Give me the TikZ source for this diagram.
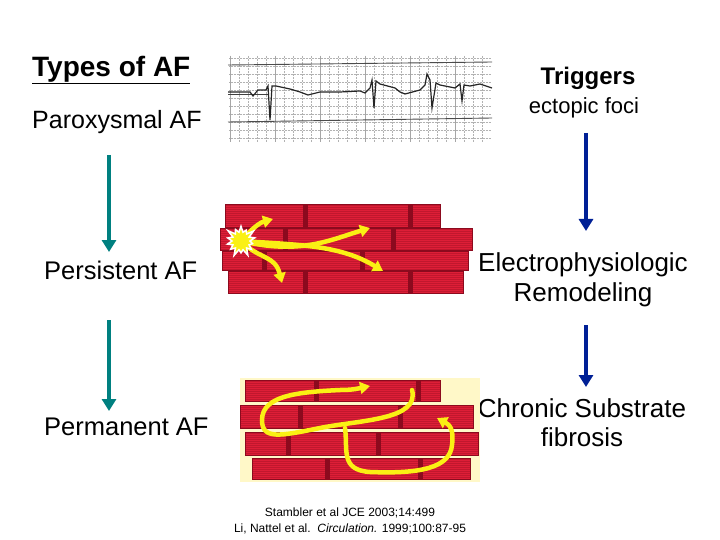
\documentclass[tikz,border=0pt]{standalone}
\usepackage{fontspec}
\setmainfont{Liberation Sans}
\usetikzlibrary{arrows.meta,shapes.misc,shapes.geometric,shapes.symbols}
\definecolor{teal1}{RGB}{0,128,128}
\definecolor{navy1}{RGB}{0,32,150}
\definecolor{fib}{RGB}{222,30,55}
\definecolor{fibd}{RGB}{140,10,30}
\definecolor{yel}{RGB}{250,240,20}
\definecolor{cream}{RGB}{255,248,200}
\tikzset{
 lbl/.style={font=\fontsize{25.5}{28}\selectfont, inner sep=0pt},
 tarrow/.style={draw=teal1, line width=4pt, -{Triangle[length=12pt,width=14pt]}},
 barrow/.style={draw=navy1, line width=4pt, -{Triangle[length=12pt,width=14pt]}},
 yarrow/.style={draw=yel, line width=4.5pt, line cap=round, -{Triangle[length=10pt,width=12pt]}},
}
\newcommand{\fiber}[4]{% x1 y1 x2 y2
 \fill[fib,draw=fibd,line width=0.8pt] (#1,#2) rectangle (#3,#4);
 \foreach \yy in {#2,...,#4} {\ifodd\yy\relax\draw[fibd,opacity=0.35,line width=0.4pt] (#1,\yy) -- (#3,\yy);\fi}
}
\newcommand{\divider}[3]{\fill[fibd] (#1-2.5,#2) rectangle (#1+2.5,#3);}
\begin{document}
\begin{tikzpicture}[x=1pt,y=-1pt]
\useasboundingbox (0,0) rectangle (720,540);
\fill[white] (0,0) rectangle (720,540);
% titles
\node[font=\bfseries\fontsize{28}{31}\selectfont,anchor=west,inner sep=0pt] (t) at (32,70) {\underline{Types of AF}};
\node[font=\fontsize{25}{28}\selectfont,inner sep=0pt,anchor=west] (p) at (32,122) {Paroxysmal AF};
\node[lbl,anchor=west] (pe) at (44,270) {Persistent AF};
\node[lbl,anchor=west] (pm) at (44,427) {Permanent AF};
\coordinate (a1) at (109,155); \coordinate (a2) at (109,252);
\coordinate (a3) at (109,320); \coordinate (a4) at (109,411);
\draw[tarrow] (a1) -- (a2);
\draw[tarrow] (a3) -- (a4);
\node[font=\bfseries\fontsize{24}{27}\selectfont,inner sep=0pt] (tr) at (588,78) {Triggers};
\node[font=\fontsize{22}{24}\selectfont,inner sep=0pt] (ef) at (584,108) {ectopic foci};
\node[align=center,inner sep=0pt,font=\fontsize{26}{30}\selectfont] (er) at (583,280) {Electrophysiologic\\Remodeling};
\node[align=center,inner sep=0pt,font=\fontsize{26}{29}\selectfont] (cs) at (582,423) {Chronic Substrate\\fibrosis};
\coordinate (b1) at (586,133); \coordinate (b2) at (586,231);
\coordinate (b3) at (586,325); \coordinate (b4) at (586,387);
\draw[barrow] (b1) -- (b2);
\draw[barrow] (b3) -- (b4);
\node[font=\fontsize{12}{16}\selectfont,align=center,inner sep=0pt] (ref) at (350,521) {Stambler et al JCE 2003;14:499\\Li, Nattel et al.\ \ \textit{Circulation.} 1999;100:87-95};
% ECG
\begin{scope}
\foreach \x in {230,239,...,490} \draw[gray!60,densely dotted,line width=0.5pt] (\x,56) -- (\x,142);
\foreach \y in {58,66,...,142} \draw[gray!60,densely dotted,line width=0.5pt] (229,\y) -- (491,\y);
\foreach \x in {230,275,320,365,410,455} \draw[gray!70,line width=0.6pt] (\x,56) -- (\x,142);
\draw[gray!60!black,line width=0.9pt] (228,65) -- (492,62);
\draw[gray!60!black,line width=0.9pt] (228,122) -- (492,118);
\draw[gray!50!black,line width=0.7pt] (228,94) -- (268,94);
\draw[black!85,line width=1.2pt] plot coordinates {(228,92) (250,92) (253,96) (258,90) (266,90) (268,86) (270,120) (272,86) (276,86) (290,89) (300,92) (308,95) (320,92) (340,92) (360,91) (365,93) (370,88) (372,80) (374,108) (376,81) (380,84) (395,88) (400,92) (405,94) (420,90) (425,85) (427,74) (430,80) (432,108) (436,83) (440,85) (455,88) (460,84) (462,101) (464,85) (470,86) (480,84) (492,88)};
\end{scope}
% tissue 1
\fiber{225}{204}{440}{227}
\fiber{220}{228}{472}{250}
\fiber{222}{251}{468}{270}
\fiber{228}{271}{463}{293}
\divider{305}{204}{227}\divider{410}{204}{227}
\divider{285}{228}{250}\divider{393}{228}{250}
\divider{264}{251}{270}\divider{362}{251}{270}
\divider{305}{271}{293}\divider{410}{271}{293}
\draw[yarrow] (241,241) .. controls (255,225) and (262,222) .. (273,219);
\draw[yarrow] (241,241) .. controls (300,255) and (330,240) .. (370,228);
\draw[yarrow] (241,241) .. controls (300,245) and (340,245) .. (383,271);
\draw[yarrow] (241,241) .. controls (260,260) and (275,255) .. (282,283);
\node[starburst,starburst points=14,starburst point height=8pt,fill=yel,draw=white,line width=1.5pt,minimum size=34pt,inner sep=0pt] (star) at (241,241) {};
% tissue 2
\fill[cream] (240,378) rectangle (480,482);
\fiber{245}{380}{440}{401}
\fiber{240}{405}{473}{428}
\fiber{245}{432}{478}{455}
\fiber{252}{458}{470}{479}
\divider{316}{380}{401}\divider{418}{380}{401}
\divider{300}{405}{428}\divider{400}{405}{428}
\divider{288}{432}{455}\divider{378}{432}{455}
\divider{327}{458}{479}\divider{420}{458}{479}
\draw[yarrow] (412,390) .. controls (420,420) and (360,420) .. (320,428)
  .. controls (280,436) and (262,440) .. (262,420)
  .. controls (262,395) and (300,392) .. (340,390)
  .. controls (355,390) and (360,388) .. (370,386);
\draw[yarrow] (345,428) .. controls (348,450) and (340,470) .. (370,472)
  .. controls (420,474) and (450,468) .. (452,445)
  .. controls (454,430) and (450,425) .. (437,418);
\end{tikzpicture}
\end{document}
